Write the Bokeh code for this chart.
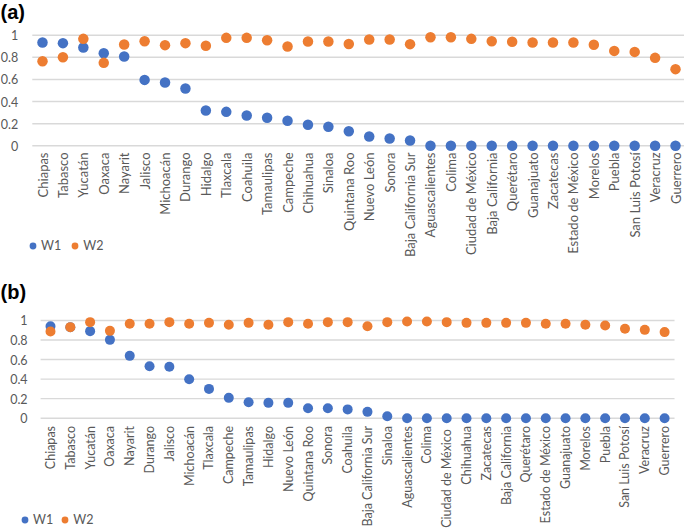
import math
from bokeh.plotting import figure
from bokeh.layouts import column
from bokeh.models import Range1d, Legend, LegendItem, Label
from bokeh.core.properties import value
from bokeh.embed import file_html
from bokeh.resources import INLINE

# ---------------- data ----------------
states_a = ["Chiapas", "Tabasco", "Yucatán", "Oaxaca", "Nayarit", "Jalisco", "Michoacán",
            "Durango", "Hidalgo", "Tlaxcala", "Coahuila", "Tamaulipas", "Campeche",
            "Chihuahua", "Sinaloa", "Quintana Roo", "Nuevo León", "Sonora",
            "Baja California Sur", "Aguascalientes", "Colima", "Ciudad de México",
            "Baja California", "Querétaro", "Guanajuato", "Zacatecas", "Estado de México",
            "Morelos", "Puebla", "San Luis Potosí", "Veracruz", "Guerrero"]
w1_a = [0.934, 0.928, 0.889, 0.837, 0.807, 0.596, 0.572, 0.518, 0.319, 0.307, 0.274,
        0.253, 0.226, 0.190, 0.172, 0.132, 0.084, 0.066, 0.048, 0, 0, 0, 0, 0, 0, 0,
        0, 0, 0, 0, 0, 0]
w2_a = [0.765, 0.800, 0.967, 0.750, 0.916, 0.946, 0.910, 0.928, 0.904, 0.976, 0.976,
        0.955, 0.898, 0.943, 0.943, 0.920, 0.961, 0.961, 0.919, 0.982, 0.982, 0.967,
        0.946, 0.940, 0.934, 0.934, 0.934, 0.913, 0.858, 0.849, 0.795, 0.693]

states_b = ["Chiapas", "Tabasco", "Yucatán", "Oaxaca", "Nayarit", "Durango", "Jalisco",
            "Michoacán", "Tlaxcala", "Campeche", "Tamaulipas", "Hidalgo", "Nuevo León",
            "Quintana Roo", "Sonora", "Coahuila", "Baja California Sur", "Sinaloa",
            "Aguascalientes", "Colima", "Ciudad de  México", "Chihuahua", "Zacatecas",
            "Baja California", "Querétaro", "Estado de México", "Guanajuato", "Morelos",
            "Puebla", "San Luis Potosí", "Veracruz", "Guerrero"]
w1_b = [0.942, 0.930, 0.891, 0.802, 0.638, 0.532, 0.526, 0.399, 0.300, 0.208, 0.164,
        0.157, 0.157, 0.102, 0.102, 0.090, 0.065, 0.020, 0, 0, 0, 0, 0, 0, 0, 0, 0,
        0, 0, 0, 0, 0]
w2_b = [0.887, 0.932, 0.983, 0.894, 0.966, 0.966, 0.983, 0.966, 0.976, 0.956, 0.976,
        0.956, 0.983, 0.966, 0.983, 0.983, 0.942, 0.983, 0.990, 0.990, 0.983, 0.976,
        0.976, 0.976, 0.976, 0.966, 0.966, 0.956, 0.949, 0.915, 0.904, 0.881]

y_ticks = [0, 0.2, 0.4, 0.6, 0.8, 1]
y_tick_labels = ["0", "0.2", "0.4", "0.6", "0.8", "1"]
series_names = ["W1", "W2"]
panel_titles = ["(a)", "(b)"]

BLUE = "#4472C4"
ORANGE = "#ED7D31"
GRAY_TXT = "#595959"
GRID = "#D9D9D9"
FONT = "Lato"


def make_panel(states, w1, w2, title, cfg):
    n = len(states)
    xs = list(range(n))
    p = figure(width=cfg["w"], height=cfg["h"], title=None,
               min_border_left=0, min_border_right=0,
               min_border_top=0, min_border_bottom=0,
               x_range=Range1d(cfg["x0"], cfg["x1"]),
               y_range=Range1d(cfg["y0"], cfg["y1"]),
               x_axis_type=None, y_axis_type=None,
               output_backend="svg", toolbar_location=None)
    p.outline_line_color = None
    p.background_fill_color = "white"
    p.border_fill_color = "white"

    # horizontal gridlines over the category span
    p.segment(x0=[-0.5] * len(y_ticks), x1=[n - 0.5] * len(y_ticks),
              y0=y_ticks, y1=y_ticks, line_color=GRID, line_width=1.4)

    # y tick labels
    p.text(x=[-0.5] * len(y_ticks), y=y_ticks, text=y_tick_labels,
           x_offset=cfg["yoff"], text_align="right", text_baseline="middle",
           text_font=value(FONT), text_font_size="12.5px", text_color=GRAY_TXT)

    # category labels (vertical, reading bottom to top)
    p.text(x=xs, y=[0] * n, text=states, angle=math.pi / 2, y_offset=cfg["xoff"],
           text_align="right", text_baseline="middle",
           text_font=value(FONT), text_font_size=cfg["xfs"], text_color=GRAY_TXT)

    r1 = p.scatter(xs, w1, size=cfg["ms"], color=BLUE, line_color=None)
    r2 = p.scatter(xs, w2, size=cfg["ms"], color=ORANGE, line_color=None)

    legend = Legend(items=[LegendItem(label=series_names[0], renderers=[r1]),
                           LegendItem(label=series_names[1], renderers=[r2])],
                    orientation="horizontal", location=cfg["leg"],
                    padding=0, margin=0, spacing=cfg["lsp"], label_standoff=0,
                    glyph_width=17, glyph_height=17, label_height=16,
                    label_text_font=FONT, label_text_font_size="12.5px",
                    label_text_color=GRAY_TXT, background_fill_alpha=0,
                    border_line_color=None)
    p.add_layout(legend, "center")

    p.add_layout(Label(x=cfg["x0"], y=cfg["ty"], text=title,
                       text_font="Liberation Sans", text_font_style="bold",
                       text_font_size="20px", text_color="black",
                       text_align="left", text_baseline="top"))
    return p


# panel (a): 684 x 265 px, 20.42 px per category, 110.6 px per unit
cfg_a = dict(w=684, h=265, x0=-2.057, x1=31.440, y0=-1.0823, y1=1.3137,
             yoff=-14, xoff=6.7, xfs="13px", ms=10.5, leg=(24, 11), lsp=5,
             ty=1.3137 - 0.5 / 110.6)
# panel (b): 684 x 265 px, 19.81 px per category, 97.7 px per unit
cfg_b = dict(w=684, h=265, x0=-2.524, x1=32.004, y0=-1.1495, y1=1.5629,
             yoff=-13, xoff=7.8, xfs="12.5px", ms=10, leg=(16, 2), lsp=3,
             ty=1.5629 - 16.0 / 97.7)

pa = make_panel(states_a, w1_a, w2_a, panel_titles[0], cfg_a)
pb = make_panel(states_b, w1_b, w2_b, panel_titles[1], cfg_b)

layout = column(pa, pb, spacing=0)
open("out.html", "w").write(file_html(layout, INLINE))
